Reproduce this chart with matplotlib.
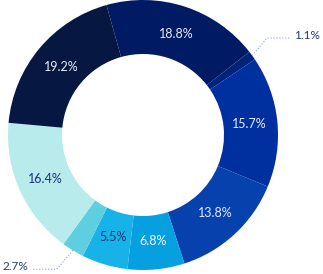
import numpy as np
import matplotlib.pyplot as plt

# 数据（顺时针，从 18.8% 开始）
values = [18.8, 1.1, 15.7, 13.8, 6.8, 5.5, 2.7, 16.4, 19.2]
labels = ["18.8%", "1.1%", "15.7%", "13.8%", "6.8%", "5.5%", "2.7%", "16.4%", "19.2%"]
colors = ["#001a64", "#00237a", "#0030a0", "#0641ad", "#06a0e0",
          "#17b3e8", "#5ecfe0", "#b7ebec", "#061842"]
text_colors = ["#e8ecf8", None, "#e8ecf8", "#e8ecf8", "#f0f6fc", "#1e3278", None, "#1e3278", "#e8ecf8"]
outside = {1: (0.11, 0.13, 0.17), 6: (-0.12, -0.14, -0.18)}

plt.rcParams['font.family'] = ['Lato', 'DejaVu Sans']

fig = plt.figure(figsize=(3.23, 2.74), dpi=100)
ax = fig.add_axes([0, 0, 1, 1])
start = 105.7
wedges, _ = ax.pie(values, colors=colors, startangle=start, counterclock=False,
                   radius=1.0, wedgeprops=dict(width=0.4, edgecolor="none"))

for i, w in enumerate(wedges):
    ang = np.deg2rad((w.theta1 + w.theta2) / 2)
    if i in outside:
        dx, dy, dh = outside[i]
        x0, y0 = np.cos(ang), np.sin(ang)
        x1, y1 = x0 + dx, y0 + dy
        x2 = x1 + dh
        ax.plot([x0, x1, x2], [y0, y1, y1], color="#8ea3d6", lw=0.8, ls=":")
        ha = "left" if dh > 0 else "right"
        ax.text(x2 + (0.03 if dh > 0 else -0.03), y1 + 0.02, labels[i], ha=ha, va="center",
                fontsize=8.5, color="#2a3a7a")
    else:
        r = 0.79
        ax.text(r * np.cos(ang), r * np.sin(ang), labels[i], ha="center", va="center",
                fontsize=9, color=text_colors[i])

ax.set_xlim(-143 / 135, (323 - 143) / 135)
ax.set_ylim((135 - 274) / 135, 1.0)
ax.set_aspect("equal")
ax.axis("off")

plt.savefig("out.png", dpi=100)
